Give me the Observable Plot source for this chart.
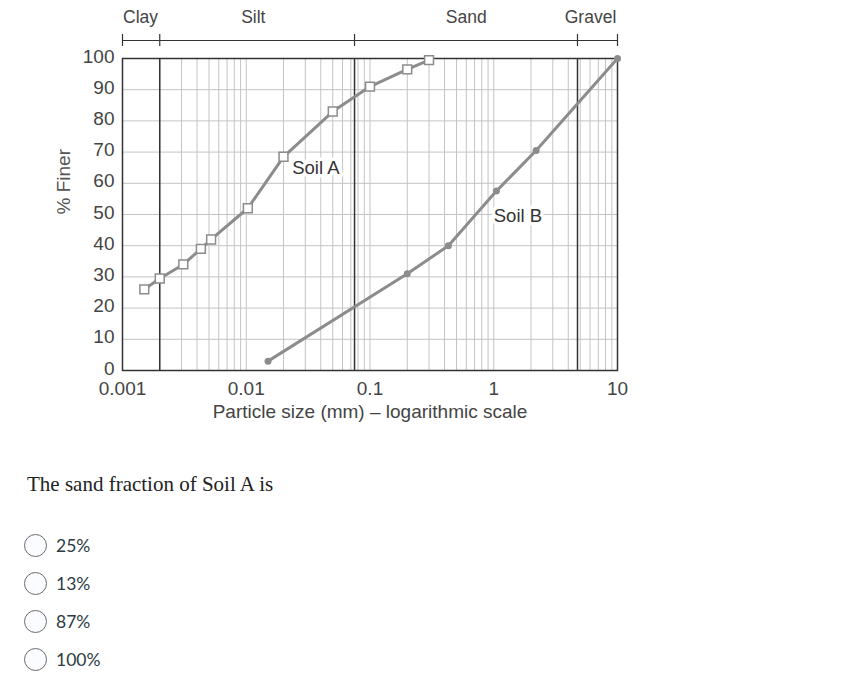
<!DOCTYPE html>
<html>
<head>
<meta charset="utf-8">
<script src="https://cdn.jsdelivr.net/npm/d3@7"></script>
<script src="https://cdn.jsdelivr.net/npm/@observablehq/plot@0.6"></script>
<style>
  html, body { margin: 0; padding: 0; background: #fff; }
  #wrap { position: relative; width: 852px; height: 677px; }
  #chart { position: absolute; left: 0; top: 0; }
  #question { position: absolute; left: 27px; top: 472px; font-family: "Liberation Serif", "DejaVu Serif", serif; font-size: 21px; line-height: 24px; color: #222; white-space: nowrap; }
  .opt { position: absolute; left: 24px; height: 24px; display: flex; align-items: center; font-family: Lato, "Liberation Sans", sans-serif; font-size: 17.5px; color: #2d3b45; }
  .opt .radio { border: 1.3px solid #6b6b6b; border-radius: 50%; background: #fbfcff; box-sizing: border-box; margin-right: 9px; width: 23px; height: 23px; }
</style>
</head>
<body>
<div id="wrap">
  <div id="chart"></div>
  <div id="question"></div>
</div>
<script>
// ---- data ----
const soilA_size = [0.0015, 0.002, 0.0031, 0.0043, 0.0052, 0.0103, 0.02, 0.05, 0.1, 0.2, 0.3];
const soilA_finer = [26, 29.5, 34, 39, 42, 52, 68.5, 83, 91, 96.5, 99.5];
const soilB_size = [0.015, 0.2, 0.43, 1.05, 2.2, 10];
const soilB_finer = [3, 31, 40, 57.5, 70.5, 100];

const xTicks = [0.001, 0.01, 0.1, 1, 10];
const xTickLabels = ["0.001", "0.01", "0.1", "1", "10"];
const yTicks = [0, 10, 20, 30, 40, 50, 60, 70, 80, 90, 100];

const zoneEdges = [0.001, 0.002, 0.075, 4.75, 10];
const zoneNames = ["Clay", "Silt", "Sand", "Gravel"];
const zoneLabelX = [0.0014, 0.0114, 0.6, 6.05];
const boundaries = [0.002, 0.075, 4.75];

const soilLabels = ["Soil A", "Soil B"];
const soilLabelX = [0.0235, 1.0];
const soilLabelY = [65, 49.5];

const xLabel = "Particle size (mm) – logarithmic scale";
const yLabel = "% Finer";
const question = "The sand fraction of Soil A is";
const options = ["25%", "13%", "87%", "100%"];

// ---- derived tables ----
const soilA = soilA_size.map((s, i) => ({size: s, finer: soilA_finer[i]}));
const soilB = soilB_size.map((s, i) => ({size: s, finer: soilB_finer[i]}));
const minorGrid = [];
for (let k = -3; k < 1; k++) for (let n = 1; n <= 9; n++) minorGrid.push(n * Math.pow(10, k));
const zones = zoneNames.map((name, i) => ({name, x: zoneLabelX[i]}));
const labels = soilLabels.map((t, i) => ({t, x: soilLabelX[i], y: soilLabelY[i]}));

const lineColor = "#8c8c8c";
const dark = "#333";

const chart = Plot.plot({
  width: 660,
  height: 440,
  marginLeft: 122,
  marginRight: 43,
  marginTop: 58,
  marginBottom: 70,
  style: {fontFamily: "'Liberation Sans', Arial, sans-serif", fontSize: "19px", color: "#444", background: "white"},
  x: {type: "log", domain: [0.001, 10]},
  y: {domain: [0, 100]},
  marks: [
    Plot.ruleX(minorGrid, {stroke: "#c4c4c4", strokeWidth: 1}),
    Plot.ruleY(yTicks.slice(1, -1), {stroke: "#c4c4c4", strokeWidth: 1}),
    Plot.ruleX(boundaries, {stroke: dark, strokeWidth: 1.5}),
    Plot.frame({stroke: dark, strokeWidth: 1.5}),
    // classification bar above the plot
    Plot.ruleY([100], {x1: 0.001, x2: 10, dy: -18, stroke: dark, strokeWidth: 1.2}),
    Plot.ruleX(zoneEdges, {y1: 100, y2: 100, dy: -18, insetTop: -6, insetBottom: -6, stroke: dark, strokeWidth: 1.2}),
    Plot.text(zones, {x: "x", y: 100, dy: -41, text: "name", fontSize: 17.5, fill: "#444"}),
    // axes
    Plot.axisX(xTicks, {tickSize: 0, tickPadding: 11, fontSize: 19, tickFormat: d => xTickLabels[xTicks.indexOf(d)], label: null}),
    Plot.axisY(yTicks, {tickSize: 0, tickPadding: 8, fontSize: 19, dy: -2, label: null}),
    Plot.text([xLabel], {frameAnchor: "bottom", dy: 47, fontSize: 19, fill: "#444"}),
    Plot.text([yLabel], {frameAnchor: "left", dx: -59, rotate: -90, fontSize: 19, fill: "#555"}),
    // curves
    Plot.line(soilA, {x: "size", y: "finer", stroke: lineColor, strokeWidth: 3}),
    Plot.line(soilB, {x: "size", y: "finer", stroke: lineColor, strokeWidth: 3}),
    Plot.dot(soilA, {x: "size", y: "finer", symbol: "square", r: 5, fill: "white", stroke: lineColor, strokeWidth: 1.5}),
    Plot.dot(soilB, {x: "size", y: "finer", r: 3.5, fill: lineColor}),
    Plot.text(labels, {x: "x", y: "y", text: "t", textAnchor: "start", fontSize: 18.5, fill: "#333", stroke: "white", strokeWidth: 7})
  ]
});
document.getElementById("chart").append(chart);

document.getElementById("question").textContent = question;
const optCenters = [545, 583, 621, 659];
options.forEach((o, i) => {
  const row = document.createElement("div");
  row.className = "opt";
  row.style.top = (optCenters[i] - 12) + "px";
  const r = document.createElement("div");
  r.className = "radio";
  const t = document.createElement("span");
  t.textContent = o;
  row.append(r, t);
  document.getElementById("wrap").append(row);
});
</script>
</body>
</html>
